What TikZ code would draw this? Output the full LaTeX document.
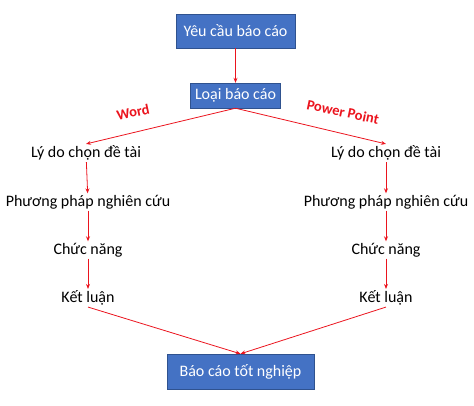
\documentclass[tikz,border=0pt]{standalone}
\usepackage{fontspec}
\setmainfont{Carlito}
\usetikzlibrary{arrows.meta, positioning, calc}
\definecolor{boxblue}{RGB}{68, 114, 196}
\definecolor{boxedge}{RGB}{47, 82, 143}
\definecolor{linkred}{RGB}{235, 20, 30}

\begin{document}
\begin{tikzpicture}[x=1pt, y=-1pt,
  bluebox/.style={draw=boxedge, fill=boxblue, text=white, inner sep=0pt, font=\fontsize{16}{18}\selectfont},
  steptext/.style={inner sep=1.5pt, font=\fontsize{16}{18}\selectfont},
  link/.style={draw=linkred, line width=0.8pt, -{Stealth[length=5pt, width=4pt]}},
  branch/.style={text=linkred, inner sep=0pt, font=\fontsize{14.5}{16}\selectfont\bfseries}]
  \useasboundingbox (0, 0) rectangle (474, 405);

  % Boxes
  \node[bluebox, minimum width=119pt, minimum height=34pt] (req) at (235.5, 31) {Yêu cầu báo cáo};
  \node[bluebox, minimum width=90pt, minimum height=25pt] (kind) at (235.5, 95.5) {Loại báo cáo};
  \node[bluebox, minimum width=147pt, minimum height=35pt] (thesis) at (240.5, 371.5) {Báo cáo tốt nghiệp};

  % Word column
  \node[steptext] (w1) at (86, 153) {Lý do chọn đề tài};
  \node[steptext] (w2) at (88, 202) {Phương pháp nghiên cứu};
  \node[steptext] (w3) at (88, 250) {Chức năng};
  \node[steptext] (w4) at (88, 298) {Kết luận};

  % Power Point column
  \node[steptext] (p1) at (386, 153) {Lý do chọn đề tài};
  \node[steptext] (p2) at (386, 202) {Phương pháp nghiên cứu};
  \node[steptext] (p3) at (386, 250) {Chức năng};
  \node[steptext] (p4) at (386, 298) {Kết luận};

  % Branch labels
  \node[branch, rotate=12] (wordlbl) at (133, 112) {Word};
  \node[branch, rotate=-12] (pptlbl) at (343, 112) {Power Point};

  % Arrows
  \draw[link] (req) -- (kind);
  \draw[link] (kind.south) -- (w1.north);
  \draw[link] (kind.south) -- (p1.north);
  \draw[link] (w1) -- (w2);
  \draw[link] (w2) -- (w3);
  \draw[link] (w3) -- (w4);
  \draw[link] (p1) -- (p2);
  \draw[link] (p2) -- (p3);
  \draw[link] (p3) -- (p4);
  \draw[link] (w4.south) -- (thesis.north);
  \draw[link] (p4.south) -- (thesis.north);
\end{tikzpicture}
\end{document}
